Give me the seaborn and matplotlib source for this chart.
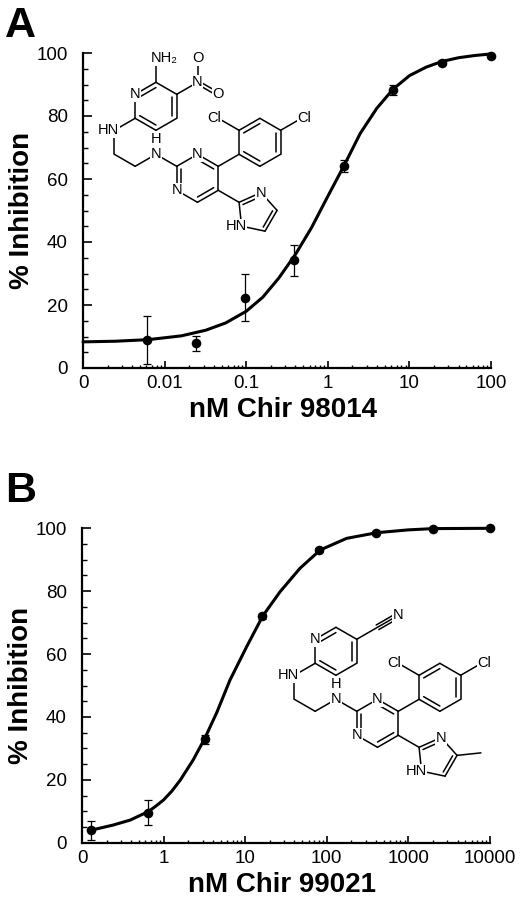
import numpy as np
import matplotlib
matplotlib.use("Agg")
import matplotlib.pyplot as plt
from matplotlib.ticker import FixedLocator, FixedFormatter, LogLocator, NullFormatter, MultipleLocator
import pandas as pd
import seaborn as sns

# panel A: Chir 98014 (4-fold dilutions)
dose_a = [0.0061, 0.024, 0.098, 0.39, 1.56, 6.25, 25, 100]
inhib_a = [8.9, 7.8, 22.3, 34.2, 64.1, 88.3, 96.9, 99.0]
err_a = [7.6, 2.4, 7.5, 5.0, 2.0, 1.5, 0.8, 0.5]
fit_x_a = [0.001, 0.0025, 0.0063, 0.016, 0.032, 0.056, 0.1, 0.16, 0.25, 0.4, 0.63,
           1.0, 1.6, 2.5, 4.0, 6.3, 10, 16, 25, 40, 63, 100]
fit_y_a = [8.3, 8.5, 9.0, 10.2, 12.0, 14.3, 18.0, 22.5, 28.5, 36.0, 44.5,
           54.5, 64.5, 74.5, 82.5, 88.5, 92.8, 95.5, 97.3, 98.5, 99.2, 99.7]
ticks_a = [0.001, 0.01, 0.1, 1, 10, 100]
ticklabels_a = ["0", "0.01", "0.1", "1", "10", "100"]

# panel B: Chir 99021 (5-fold dilutions)
dose_b = [0.128, 0.64, 3.2, 16, 80, 400, 2000, 10000]
inhib_b = [4.0, 9.6, 32.9, 72.1, 93.1, 98.6, 99.9, 100.0]
err_b = [3.0, 3.9, 1.5, 0.8, 0.6, 0.5, 0.3, 0.3]
fit_x_b = [0.13, 0.24, 0.39, 0.65, 0.8, 1.0, 1.26, 1.6, 2.3, 3.2, 4.5, 6.5, 10.4,
           16.4, 26.7, 47, 83, 175, 410, 1000, 2000, 10000]
fit_y_b = [4.0, 5.6, 7.2, 9.9, 11.6, 13.6, 16.4, 19.9, 26.3, 33.2, 41.5, 51.7, 62.3,
           72.1, 79.8, 87.3, 93.1, 96.8, 98.6, 99.5, 99.9, 100.0]
ticks_b = [0.1, 1, 10, 100, 1000, 10000]
ticklabels_b = ["0", "1", "10", "100", "1000", "10000"]

sns.set_style("ticks")
plt.rcParams["font.family"] = ["Liberation Sans", "DejaVu Sans"]
plt.rcParams.update({
    "text.color": "black",
    "axes.labelcolor": "black",
    "axes.edgecolor": "black",
    "xtick.color": "black",
    "ytick.color": "black",
})


def draw_panel(ax, dose, inhib, err, fit_x, fit_y, ticks, ticklabels, xlabel):
    ax.set_xscale("log")
    fit = pd.DataFrame({"dose": fit_x, "inhibition": fit_y})
    pts = pd.DataFrame({"dose": dose, "inhibition": inhib})
    sns.lineplot(data=fit, x="dose", y="inhibition", ax=ax, color="black",
                 lw=2.2, clip_on=False, sort=True)
    ax.errorbar(dose, inhib, yerr=err, fmt="none", ecolor="black",
                elinewidth=0.9, capsize=2.6, capthick=0.9)
    sns.scatterplot(data=pts, x="dose", y="inhibition", ax=ax, color="black",
                    s=48, linewidth=0, clip_on=False, zorder=5)
    ax.set_xlim(ticks[0], ticks[-1])
    ax.set_ylim(0, 100)

    ax.xaxis.set_major_locator(FixedLocator(ticks))
    ax.xaxis.set_major_formatter(FixedFormatter(ticklabels))
    ax.xaxis.set_minor_locator(LogLocator(base=10, subs=np.arange(2, 10), numticks=100))
    ax.xaxis.set_minor_formatter(NullFormatter())
    ax.yaxis.set_major_locator(MultipleLocator(20))
    ax.yaxis.set_minor_locator(MultipleLocator(5))

    ax.tick_params(axis="x", which="major", direction="in", length=5, width=1.2,
                   labelsize=13.5, pad=5)
    ax.tick_params(axis="x", which="minor", direction="in", length=2.5, width=1)
    ax.tick_params(axis="y", which="major", direction="in", length=6.5, width=1.2,
                   labelsize=13.5, pad=11)
    ax.tick_params(axis="y", which="minor", direction="in", length=3.5, width=1)
    sns.despine(ax=ax)
    for side in ["left", "bottom"]:
        ax.spines[side].set_linewidth(1.6)

    ax.set_xlabel(xlabel, fontsize=20, fontweight="bold")
    ax.set_ylabel("% Inhibition", fontsize=20, fontweight="bold")
    ax.xaxis.set_label_coords(0.49, -0.092)
    ax.yaxis.set_label_coords(-0.118, 0.5)


def ring(center, n, start_deg):
    cx, cy = center
    r = 1 / (2 * np.sin(np.pi / n))
    angs = np.deg2rad(start_deg - 360 / n * np.arange(n))
    return [(cx + r * np.cos(a), cy + r * np.sin(a)) for a in angs]


def draw_molecule(ax, ox, oy, L, nitrile=False):
    """Line drawing of the inhibitor; ox, oy = pyrimidine centre in pixels"""
    S = np.sqrt(3) / 2
    pyrim = ring((0, 0), 6, 90)
    pyrid = ring((-2 * S, 3), 6, 90)
    phen = ring((3 * S, 1.5), 6, 90)
    r5 = 1 / (2 * np.sin(np.pi / 5))
    c2 = (2 * S, -1)
    imid = ring((c2[0] + r5 * S, c2[1] - r5 * 0.5), 5, 150)
    nh_a, ch_1, ch_2, nh_b = (-2 * S, 1), (-3 * S, 0.5), (-4 * S, 1), (-4 * S, 2)
    cl1, cl2 = (S, 2.5), (5 * S, 2.5)

    def P(p):
        return ox + p[0] * L, oy - p[1] * L

    def line(a, b):
        (x1, y1), (x2, y2) = P(a), P(b)
        ax.plot([x1, x2], [y1, y2], color="black", lw=1.1, solid_capstyle="round")

    def ring_bonds(pts, doubles):
        n = len(pts)
        cx = np.mean([p[0] for p in pts])
        cy = np.mean([p[1] for p in pts])
        for i in range(n):
            a, b = pts[i], pts[(i + 1) % n]
            line(a, b)
            if (i, (i + 1) % n) in doubles:
                a2 = (a[0] + (cx - a[0]) * 0.22, a[1] + (cy - a[1]) * 0.22)
                b2 = (b[0] + (cx - b[0]) * 0.22, b[1] + (cy - b[1]) * 0.22)
                line(a2, b2)

    def multi(a, b, offsets):
        dx, dy = b[0] - a[0], b[1] - a[1]
        d = np.hypot(dx, dy)
        nx, ny = -dy / d, dx / d
        for o in offsets:
            line((a[0] + nx * o, a[1] + ny * o), (b[0] + nx * o, b[1] + ny * o))

    def label(p, s, dx=0, dy=0, ha="center"):
        x, y = P(p)
        ax.text(x + dx, y + dy, s, fontsize=10.5, ha=ha, va="center", zorder=5,
                bbox=dict(fc="white", ec="none", pad=0.4))

    ring_bonds(pyrim, {(0, 1), (2, 3), (4, 5)})
    ring_bonds(pyrid, {(5, 0), (1, 2), (3, 4)})
    ring_bonds(phen, {(5, 0), (1, 2), (3, 4)})
    ring_bonds(imid, {(0, 1), (2, 3)})
    line(pyrim[5], nh_a)
    line(nh_a, ch_1)
    line(ch_1, ch_2)
    line(ch_2, nh_b)
    line(nh_b, pyrid[4])
    line(pyrim[1], phen[4])
    line(pyrim[2], imid[0])
    line(phen[5], cl1)
    line(phen[1], cl2)

    if nitrile:
        cn_c, cn_n = (0, 4), (S, 4.5)
        line(pyrid[1], cn_c)
        multi(cn_c, cn_n, [-0.11, 0, 0.11])
        label(cn_n, "N")
        a6 = np.deg2rad(6)
        me = (imid[2][0] + np.cos(a6), imid[2][1] + np.sin(a6))
        line(imid[2], me)
    else:
        nh2, n_no2, o1, o2 = (-2 * S, 5), (0, 4), (0, 5), (S, 3.5)
        line(pyrid[0], nh2)
        line(pyrid[1], n_no2)
        line(n_no2, o1)
        multi(n_no2, o2, [-0.07, 0.07])
        label(nh2, "NH₂", dx=-5, ha="left")
        label(n_no2, "N")
        label(o1, "O")
        label(o2, "O")

    label(pyrim[0], "N")
    label(pyrim[4], "N")
    label(pyrid[5], "N")
    label(imid[1], "N")
    label(imid[4], "HN", dx=5, ha="right")
    label(nh_a, "N")
    label(nh_a, "H", dy=-0.62 * L)
    label(nh_b, "HN", dx=5, ha="right")
    label(cl1, "Cl", dx=3, ha="right")
    label(cl2, "Cl", dx=-4, ha="left")


fig = plt.figure(figsize=(5.2, 9.09), dpi=100)
ax_a = fig.add_axes([83 / 520, 1 - 368 / 909, 408 / 520, 315 / 909])
ax_b = fig.add_axes([82 / 520, 1 - 842.7 / 909, 408 / 520, 314.4 / 909])

draw_panel(ax_a, dose_a, inhib_a, err_a, fit_x_a, fit_y_a, ticks_a, ticklabels_a,
           "nM Chir 98014")
draw_panel(ax_b, dose_b, inhib_b, err_b, fit_x_b, fit_y_b, ticks_b, ticklabels_b,
           "nM Chir 99021")

fig.text(5 / 520, 1 - 37 / 909, "A", fontsize=31, fontweight="bold", va="baseline")
fig.text(5 / 520, 1 - 501.7 / 909, "B", fontsize=31, fontweight="bold", va="baseline")

# structures drawn on a pixel-coordinate overlay
ov = fig.add_axes([0, 0, 1, 1], zorder=10)
ov.set_xlim(0, 520)
ov.set_ylim(909, 0)
ov.axis("off")
ov.patch.set_visible(False)
draw_molecule(ov, 197.5, 178.3, 24, nitrile=False)
draw_molecule(ov, 377.5, 723.3, 24, nitrile=True)

fig.savefig("out.png", dpi=100)
